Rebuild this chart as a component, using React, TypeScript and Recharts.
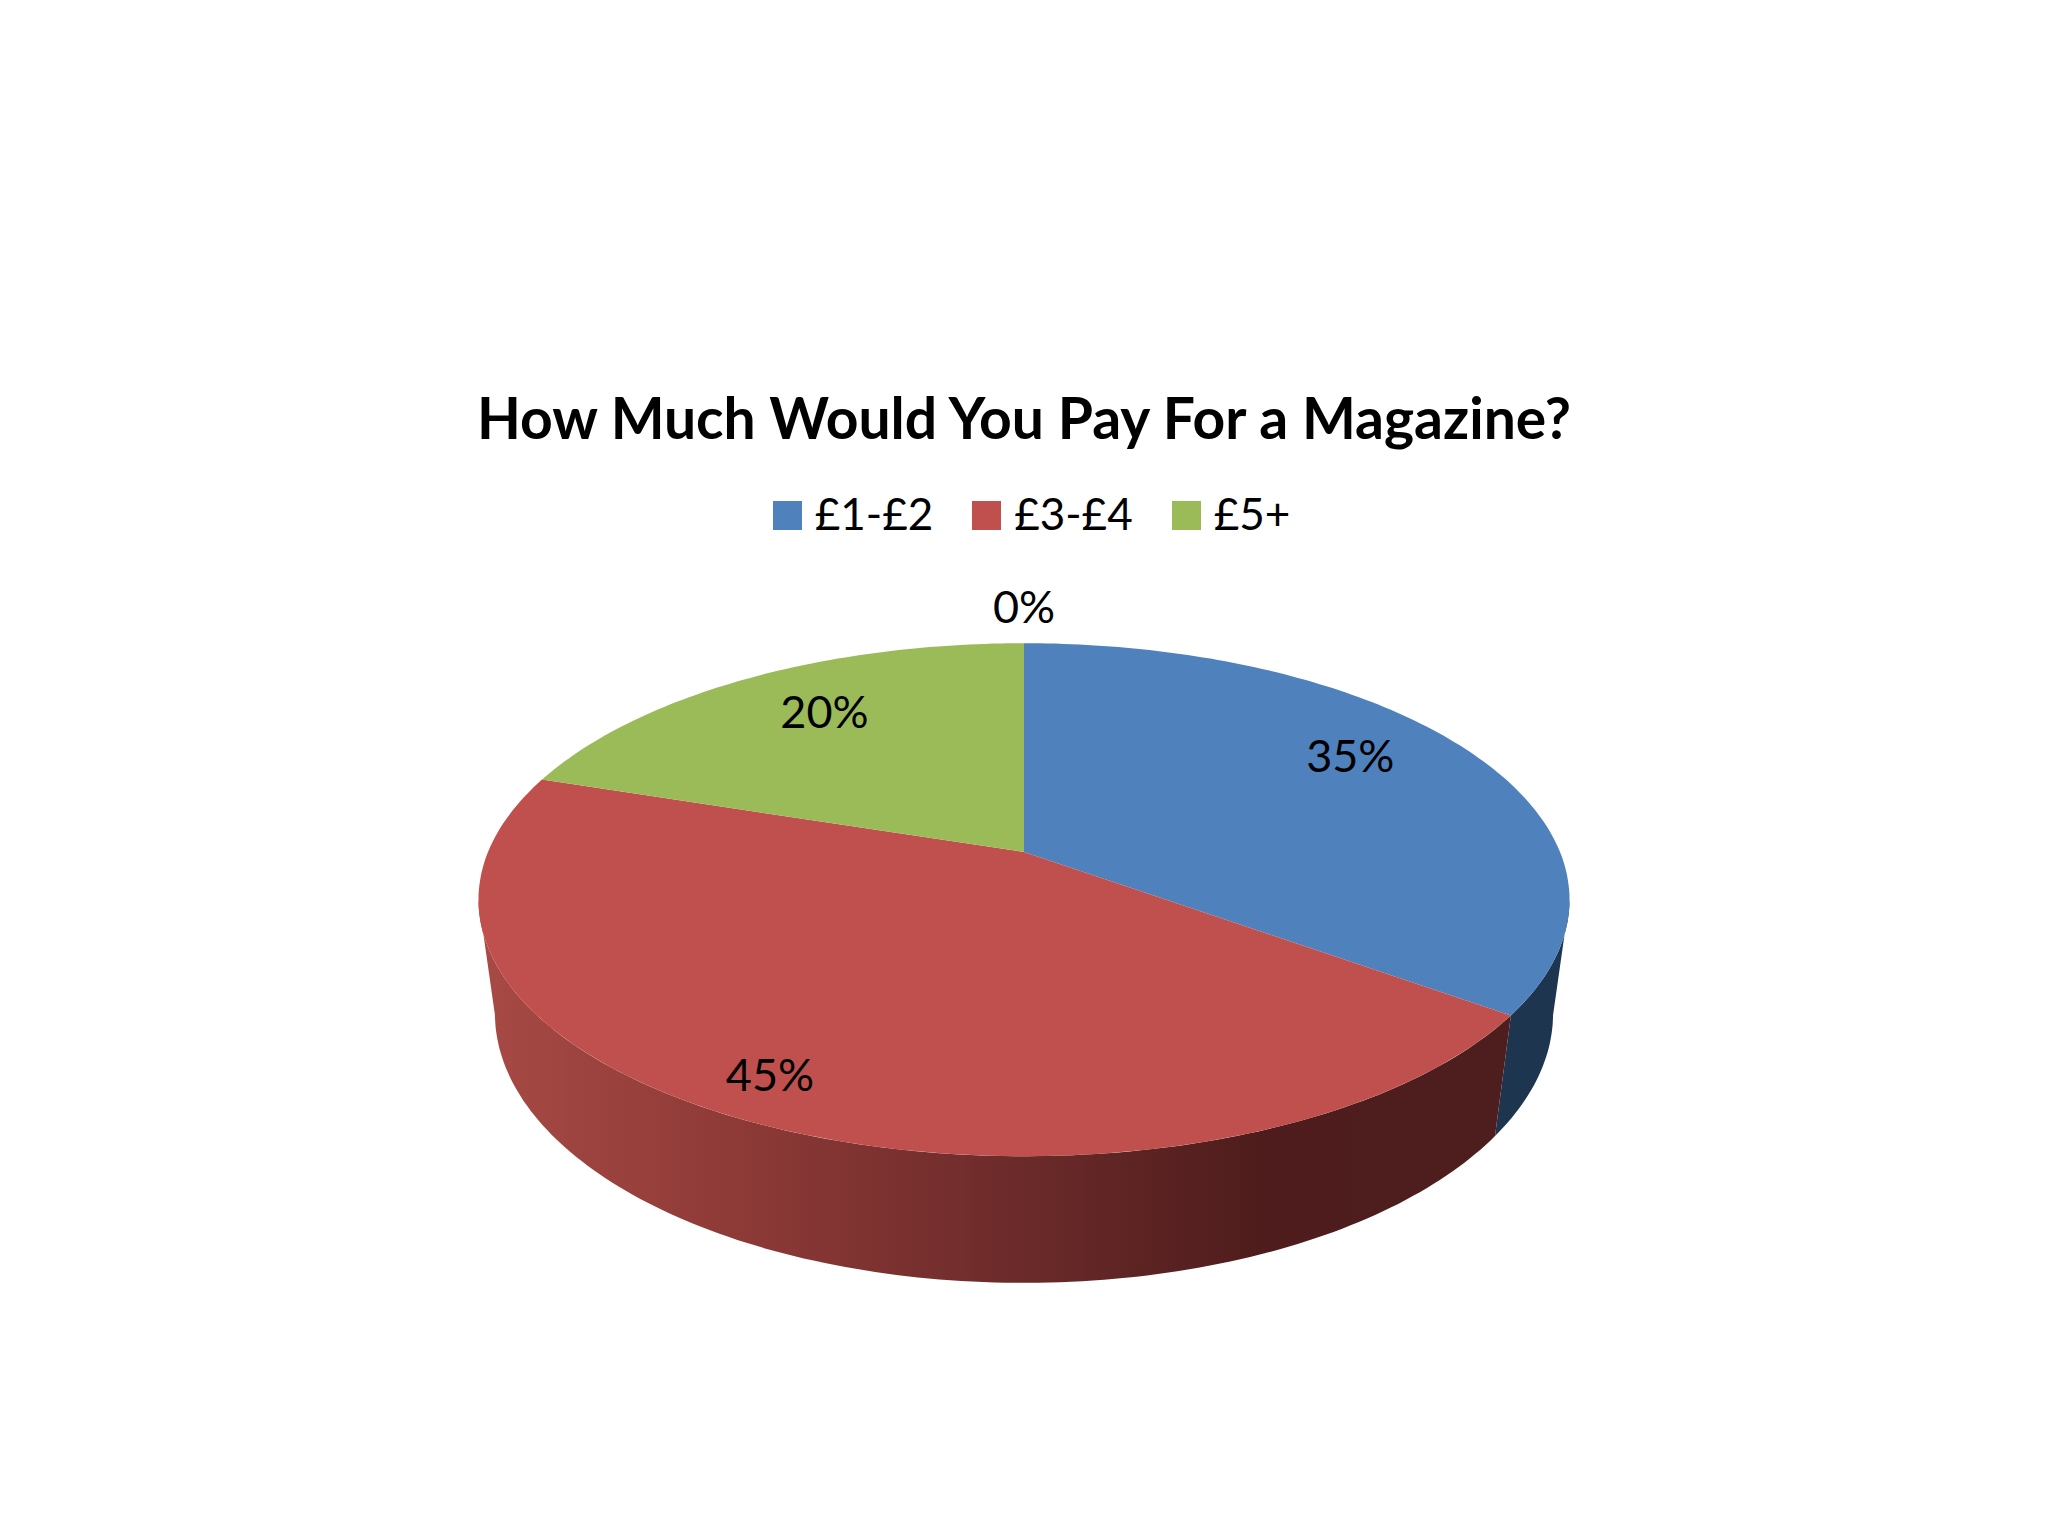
import React from "react";
import { PieChart, Pie, Legend } from "recharts";

const categories = ["£1-£2", "£3-£4", "£5+", ""];
const shares = [35, 45, 20, 0];
const topColors = ["#4f81bd", "#c0504d", "#9bbb59", "#8064a2"];
const wallFills = ["#1e3550", "url(#redWall)", "#5d7035", "#4c3c61"];
// manual nudges of the data labels: radius factor on the pie, then vertical shift
const labelRadius = [0.725, 0.89, 0.7, 1.0];
const labelShift = [-20, -8, -14, -37];

const data = categories.map((name, i) => ({ name, value: shares[i] }));

const WIDTH = 2048;
const HEIGHT = 1536;
const FONT = "Lato, Carlito, sans-serif";
const CX = 1024;
const CY = 852;
const RADIUS = 536;

// perspective tilt of the disc, as in the old 3-D pie charts
const TILT = 0.462; // vertical squash of the disc
const NEAR = 0.186; // how much the front grows
const DEPTH = 0.03; // how much the bottom face shrinks
const DROP = 116; // height of the wall

/* theta: degrees clockwise from 12 o'clock */
function project(cx: number, cy: number, r: number, f: number, theta: number, lower = false) {
  const a = (theta * Math.PI) / 180;
  const u = Math.sin(a) * f;
  const v = -Math.cos(a) * f;
  const w = 1 - NEAR * v + (lower ? DEPTH : 0);
  return {
    x: cx + (r * u) / w,
    y: cy + (r * TILT * v + (lower ? DROP : 0)) / w,
  };
}

function arcPoints(cx: number, cy: number, r: number, from: number, to: number, lower = false) {
  const pts = [];
  const n = Math.max(2, Math.ceil(to - from));
  for (let i = 0; i <= n; i++) {
    pts.push(project(cx, cy, r, 1, from + ((to - from) * i) / n, lower));
  }
  return pts;
}

const toPath = (pts: { x: number; y: number }[]) =>
  pts.map((p, i) => `${i ? "L" : "M"}${p.x.toFixed(1)},${p.y.toFixed(1)}`).join("") + "Z";

// angles where the rim is at its widest, the wall only shows between them
const FRONT_FROM = (Math.acos(-NEAR) * 180) / Math.PI;
const FRONT_TO = 360 - FRONT_FROM;

function Slice(props: any) {
  const { cx, cy, outerRadius, startAngle, endAngle, index } = props;
  const from = 90 - startAngle;
  const to = 90 - endAngle;
  if (to - from <= 0) return null;
  const wallFrom = Math.max(from, FRONT_FROM);
  const wallTo = Math.min(to, FRONT_TO);
  const top = [{ x: cx, y: cy }, ...arcPoints(cx, cy, outerRadius, from, to)];
  return (
    <g>
      {wallTo > wallFrom && (
        <path
          d={toPath([
            ...arcPoints(cx, cy, outerRadius, wallFrom, wallTo),
            ...arcPoints(cx, cy, outerRadius, wallFrom, wallTo, true).reverse(),
          ])}
          fill={wallFills[index]}
        />
      )}
      <path d={toPath(top)} fill={topColors[index]} />
    </g>
  );
}

function SliceLabel(props: any) {
  const { cx, cy, outerRadius, midAngle, percent, index } = props;
  const p = project(cx, cy, outerRadius, labelRadius[index], 90 - midAngle);
  return (
    <text
      x={p.x}
      y={p.y + labelShift[index]}
      textAnchor="middle"
      dominantBaseline="central"
      fontFamily={FONT}
      fontSize={45}
      fill="#000"
    >
      {`${Math.round(percent * 100)}%`}
    </text>
  );
}

function LegendRow({ payload }: any) {
  return (
    <div
      style={{
        display: "flex",
        justifyContent: "center",
        paddingLeft: 54,
        fontFamily: FONT,
        fontSize: 44,
        lineHeight: "44px",
      }}
    >
      {(payload || [])
        .filter((e: any) => e.value)
        .map((e: any) => (
          <span key={e.value} style={{ display: "flex", alignItems: "center", marginRight: 39 }}>
            <span
              style={{
                width: 29,
                height: 29,
                marginTop: 4,
                marginRight: 13,
                background: topColors[categories.indexOf(e.value)],
              }}
            />
            {e.value}
          </span>
        ))}
    </div>
  );
}

export default function App() {
  return (
    <div style={{ position: "absolute", left: 0, top: 0, width: WIDTH, height: HEIGHT, background: "#fff" }}>
      <PieChart width={WIDTH} height={HEIGHT} margin={{ top: 0, right: 0, bottom: 0, left: 0 }}>
        <defs>
          <linearGradient id="redWall" gradientUnits="userSpaceOnUse" x1={478} y1={0} x2={1570} y2={0}>
            <stop offset="0" stopColor="#a84a45" />
            <stop offset="0.25" stopColor="#8c3936" />
            <stop offset="0.5" stopColor="#6b2a2a" />
            <stop offset="0.72" stopColor="#4e1c1c" />
            <stop offset="1" stopColor="#4e1e1e" />
          </linearGradient>
        </defs>
        <text x={1024} y={439} textAnchor="middle" fontFamily={FONT} fontWeight={700} fontSize={57} fill="#000">
          How Much Would You Pay For a Magazine?
        </text>
        <Legend
          verticalAlign="middle"
          content={<LegendRow />}
          wrapperStyle={{ position: "absolute", top: 491, left: 0, width: WIDTH }}
        />
        <Pie
          data={data}
          dataKey="value"
          nameKey="name"
          cx={CX}
          cy={CY}
          outerRadius={RADIUS}
          startAngle={90}
          endAngle={-270}
          shape={Slice}
          label={SliceLabel}
          labelLine={false}
          isAnimationActive={false}
        />
      </PieChart>
    </div>
  );
}
